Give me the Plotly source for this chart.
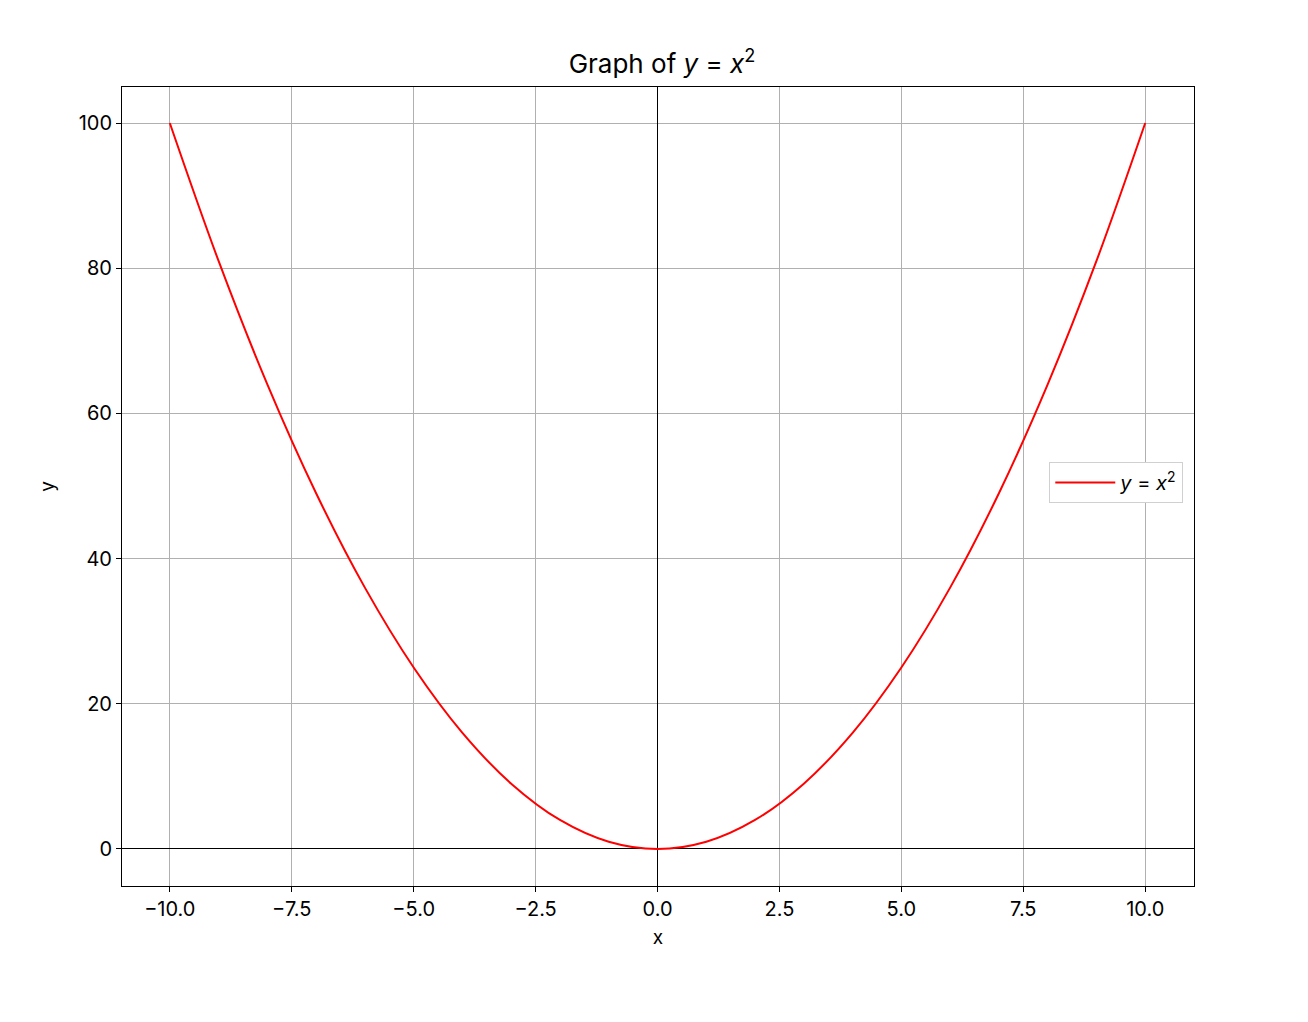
import plotly.graph_objects as go

# points
x_vals = [-10, -9, -8, -7, -6, -5, -4, -3, -2, -1, 0, 1, 2, 3, 4, 5, 6, 7, 8, 9, 10]
y_vals = [100, 81, 64, 49, 36, 25, 16, 9, 4, 1, 0, 1, 4, 9, 16, 25, 36, 49, 64, 81, 100]
x_ticks = [-10, -7.5, -5, -2.5, 0, 2.5, 5, 7.5, 10]
y_ticks = [0, 20, 40, 60, 80, 100]

fig = go.Figure()
fig.add_trace(go.Scatter(x=x_vals, y=y_vals, mode='lines', line=dict(color='red', width=2, shape='spline'),
                         name='<i>y</i> = <i>x</i><sup>2</sup>'))

axis = dict(showline=True, linecolor='black', linewidth=1, mirror=True, ticks='outside', ticklen=5,
            tickcolor='black', showgrid=True, gridcolor='#b0b0b0', gridwidth=1,
            zeroline=True, zerolinecolor='black', zerolinewidth=1, tickfont=dict(size=20))

fig.update_layout(
    width=1308, height=1022, paper_bgcolor='white', plot_bgcolor='white',
    margin=dict(l=114, r=122, t=79, b=144),
    font=dict(family='Inter, Open Sans, sans-serif', color='black'),
    title=dict(text='Graph of <i>y</i> = <i>x</i><sup>2</sup>', x=0.5, xanchor='center', y=0.945,
               yanchor='middle', font=dict(size=26)),
    xaxis=dict(axis, range=[-10.98, 11.0], tickvals=x_ticks, ticktext=['−10.0', '−7.5', '−5.0', '−2.5', '0.0', '2.5', '5.0', '7.5', '10.0'],
               title=dict(text='x', font=dict(size=19), standoff=10)),
    yaxis=dict(axis, range=[-5.1, 104.96], tickvals=y_ticks, title=dict(text='y', font=dict(size=19), standoff=18)),
    showlegend=True,
    legend=dict(x=0.99, y=0.505, xanchor='right', yanchor='middle', bgcolor='white', bordercolor='#d0d0d0',
                borderwidth=1, font=dict(size=20), itemwidth=60),
)

fig.write_html('out.html')
